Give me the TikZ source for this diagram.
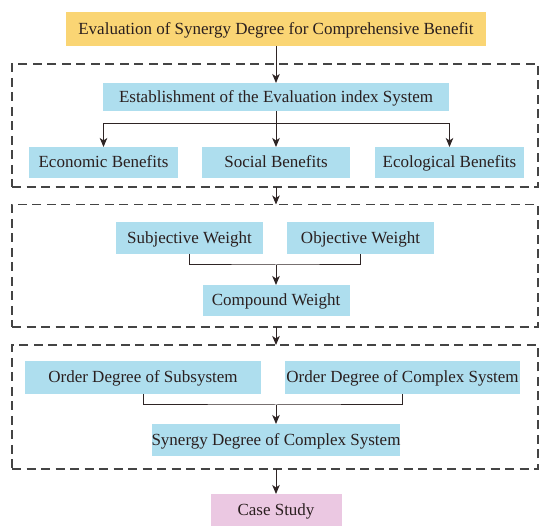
\documentclass[tikz,border=0pt]{standalone}
\usepackage{fontspec}
\setmainfont{Liberation Serif}
\usetikzlibrary{arrows.meta}
\definecolor{ylw}{HTML}{FAD574}
\definecolor{blu}{HTML}{AEDEEE}
\definecolor{pnk}{HTML}{EBC8E2}
\definecolor{txt}{HTML}{2A1F1F}
\definecolor{dsh}{HTML}{444444}
\definecolor{lnc}{HTML}{2E2424}
\begin{document}
\begin{tikzpicture}[x=1pt,y=-1pt,
  base/.style={inner sep=0pt, outer sep=0pt, text=txt, font=\fontsize{17}{20}\selectfont, text height=11pt, text depth=0pt},
  bluebox/.style={base, fill=blu},
  dashbox/.style={draw=dsh, line width=1.2pt, dash pattern=on 9pt off 5.5pt, inner sep=0pt, outer sep=0pt, minimum width=526pt},
  arr/.style={draw=lnc, line width=1pt, -{Stealth[length=9pt,width=7.5pt,inset=2.5pt]}},
  ln/.style={draw=lnc, line width=1pt}]
\useasboundingbox (0,0) rectangle (550,526);
\node[dashbox, minimum height=123pt] (b1) at (275,125.5) {};
\node[dashbox, minimum height=122.5pt] (b2) at (275,265.75) {};
\node[dashbox, minimum height=124pt] (b3) at (275,407) {};
\node[base, fill=ylw, minimum width=420pt, minimum height=34pt] (top) at (276,29) {Evaluation of Synergy Degree for Comprehensive Benefit};
\node[bluebox, minimum width=346pt, minimum height=28pt] (est) at (276,97) {Establishment of the Evaluation index System};
\node[bluebox, minimum width=149pt, minimum height=31pt] (eco) at (103.5,162.5) {Economic Benefits};
\node[bluebox, minimum width=148pt, minimum height=31pt] (soc) at (276,162.5) {Social Benefits};
\node[bluebox, minimum width=149pt, minimum height=31pt] (ecl) at (449.5,162.5) {Ecological Benefits};
\node[bluebox, minimum width=147pt, minimum height=32pt] (subj) at (189.5,238) {Subjective Weight};
\node[bluebox, minimum width=147pt, minimum height=32pt] (obj) at (360.5,238) {Objective Weight};
\node[bluebox, minimum width=147pt, minimum height=31pt] (comp) at (276,300.5) {Compound Weight};
\node[bluebox, minimum width=236pt, minimum height=33pt] (ods) at (143,377.5) {Order Degree of Subsystem};
\node[bluebox, minimum width=235pt, minimum height=33pt] (odc) at (402.5,377.5) {Order Degree of Complex System};
\node[bluebox, minimum width=248pt, minimum height=32pt] (syn) at (276,440) {Synergy Degree of Complex System};
\node[base, fill=pnk, minimum width=131pt, minimum height=32pt] (case) at (276,510) {Case Study};
\coordinate (j1) at (276,124);
\coordinate (j2) at (276,265);
\coordinate (j3) at (276,405);
% connectors
\draw[arr] (top.south) -- (est.north);
\draw[ln] (est.south) -- (j1);
\draw[arr] (j1) -| (eco.north);
\draw[arr] (j1) -| (ecl.north);
\draw[arr] (j1) -- (soc.north);
\draw[arr] (b1.south -| top.south) -- (b2.north -| top.south);
\draw[ln] (subj.south) |- (j2) -| (obj.south);
\draw[arr] (j2) -- (comp.north);
\draw[arr] (b2.south -| top.south) -- (b3.north -| top.south);
\draw[ln] (ods.south) |- (j3) -| (odc.south);
\draw[arr] (j3) -- (syn.north);
\draw[arr] (b3.south -| top.south) -- (case.north);
\end{tikzpicture}
\end{document}
